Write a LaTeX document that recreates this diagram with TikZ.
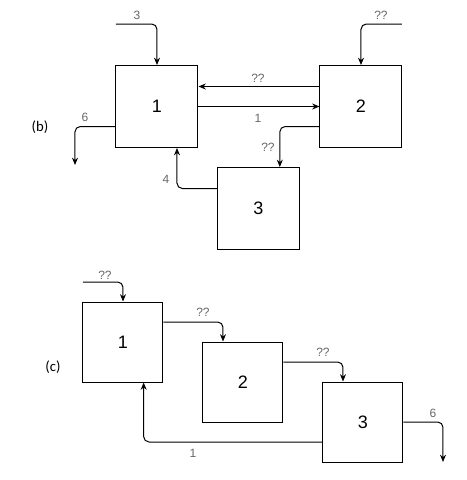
\documentclass[tikz,border=0pt]{standalone}
\usepackage{fontspec}
\setmainfont{Liberation Sans}
\newfontfamily\calibri{Carlito}
\usetikzlibrary{arrows.meta}
\definecolor{labelgray}{HTML}{666666}
\begin{document}
\begin{tikzpicture}[x=0.75pt,y=-0.75pt,line width=0.75pt,>={Stealth[length=5.5pt,width=4.5pt]}]
  \useasboundingbox (0,0) rectangle (467,480);
  \tikzstyle{vertex}=[rectangle,draw,minimum size=61.5pt,inner sep=0pt,font=\fontsize{13.5}{13.5}\selectfont]
  \tikzstyle{flow}=[->,rounded corners=4pt]
  \tikzstyle{tag}=[text=labelgray,inner sep=0pt,font=\fontsize{9}{9}\selectfont]
  \tikzstyle{part}=[inner sep=0pt,font=\calibri\fontsize{11}{11}\selectfont]

  % (b)
  \foreach \name/\x/\y in {1/157/106.5, 2/361/106.5, 3/258.5/208.5}
    \node[vertex] (B-\name) at (\x,\y) {\name};
  \coordinate (B-in1) at (116,24);
  \coordinate (B-in2) at (402,24);
  \coordinate (B-out) at (75,165);
  \draw[flow] (B-in1) -| (B-1.north);
  \draw[flow] (B-in2) -| (B-2.north);
  \draw[flow] ([yshift=15pt]B-2.west) -- ([yshift=15pt]B-1.east);
  \draw[flow] (B-1.east) -- (B-2.west);
  \draw[flow] ([yshift=-15pt]B-2.west) -| ([xshift=16pt]B-3.north);
  \draw[flow] ([yshift=-15pt]B-1.west) -| (B-out);
  \draw[flow] ([yshift=15pt]B-3.west) -| ([xshift=15pt]B-1.south);
  \foreach \name/\x/\y/\text in {a/137/15/3, b/381/15/??, c/258/78/??, d/258/118/1, e/268/147/??, f/85/117/6, g/166/179/4}
    \node[tag] (BL-\name) at (\x,\y) {\text};
  \node[part] (B-tag) at (40,127) {(b)};

  % (c)
  \foreach \name/\x/\y in {1/123/342, 2/243/382, 3/363/422}
    \node[vertex,minimum size=60pt] (C-\name) at (\x,\y) {\name};
  \coordinate (C-in) at (83,282);
  \coordinate (C-out) at (443,462);
  \draw[flow] (C-in) -| (C-1.north);
  \draw[flow] ([yshift=15pt]C-1.east) -| ([xshift=-15pt]C-2.north);
  \draw[flow] ([yshift=15pt]C-2.east) -| ([xshift=-15pt]C-3.north);
  \draw[flow] (C-3.east) -| (C-out);
  \draw[flow] ([yshift=-15pt]C-3.west) -| ([xshift=15.5pt]C-1.south);
  \foreach \name/\x/\y/\text in {a/105/275/??, b/203/312/??, c/323/352/??, d/433/413/6, e/193/453/1}
    \node[tag] (CL-\name) at (\x,\y) {\text};
  \node[part] (C-tag) at (53,367) {(c)};
\end{tikzpicture}
\end{document}
